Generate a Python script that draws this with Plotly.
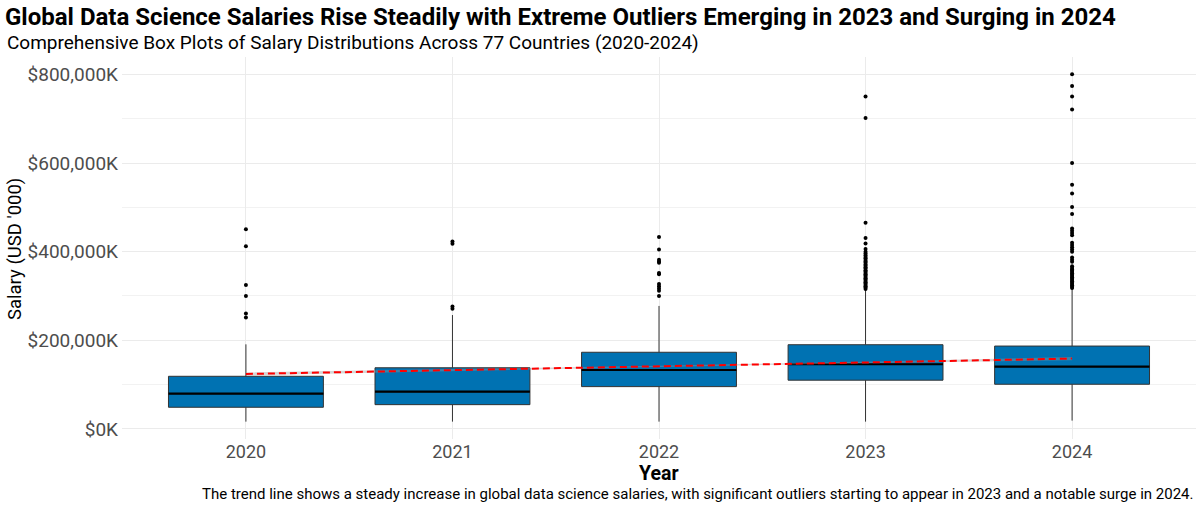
import plotly.graph_objects as go

# ---------------- data ----------------
years = [2020, 2021, 2022, 2023, 2024]
q1 = [48900, 54800, 95500, 110000, 100800]
median = [79500, 84000, 133000, 146000, 140600]
q3 = [118800, 138000, 173000, 190000, 187000]
lower_fence = [16500, 16500, 16500, 16500, 18800]
upper_fence = [190900, 257000, 277500, 313500, 319600]

outliers_2020 = [450700, 412000, 325000, 300000, 260700, 251700]
outliers_2021 = [423000, 418000, 276000, 271000]
outliers_2022 = [433000, 405000, 382000, 378000, 375000, 352000, 349000,
                 327000, 322000, 317000, 312000, 300000]
outliers_2023 = [750000, 701500, 465000, 431000, 418500, 406000, 400000,
                 396000, 392000, 388000, 385000, 381000, 378000, 375000,
                 371000, 368000, 365000, 362000, 358000, 355000, 352000,
                 349000, 346000, 343000, 340000, 337000, 334000, 331000,
                 328000, 325000, 322000, 319000, 316000]
outliers_2024 = [800000, 774000, 750000, 721000, 600000, 551000, 531000,
                 501000, 485000, 452000, 447000, 442000, 437000, 420000,
                 415000, 410000, 405000, 400000, 387000, 382000, 377000,
                 367000, 363000, 360000, 357000, 354000, 351000, 348000,
                 345000, 342000, 339000, 336000, 333000, 330000, 327000,
                 324000, 321000, 318000]
outliers = [outliers_2020, outliers_2021, outliers_2022, outliers_2023, outliers_2024]

trend = [124000, 132700, 141400, 150000, 158700]
trend_lo = [120500, 130700, 140000, 148200, 155200]
trend_hi = [127500, 134700, 142800, 151800, 162200]

tick_vals = [0, 200000, 400000, 600000, 800000]
tick_text = ["$0K", "$200,000K", "$400,000K", "$600,000K", "$800,000K"]

title = "Global Data Science Salaries Rise Steadily with Extreme Outliers Emerging in 2023 and Surging in 2024"
subtitle = "Comprehensive Box Plots of Salary Distributions Across 77 Countries (2020-2024)"
caption = "The trend line shows a steady increase in global data science salaries, with significant outliers starting to appear in 2023 and a notable surge in 2024."

BOX_W = 0.75
FONT = "Roboto"

fig = go.Figure()

fig.add_trace(go.Box(
    x=years, q1=q1, median=median, q3=q3,
    lowerfence=lower_fence, upperfence=upper_fence,
    width=BOX_W, fillcolor="#0072B2",
    line=dict(color="#333333", width=1),
    whiskerwidth=0, boxpoints=False, showlegend=False, hoverinfo="skip",
))

# thick median lines
mx, my = [], []
for yr, m in zip(years, median):
    mx += [yr - BOX_W / 2, yr + BOX_W / 2, None]
    my += [m, m, None]
fig.add_trace(go.Scatter(x=mx, y=my, mode="lines",
                         line=dict(color="black", width=2.2),
                         showlegend=False, hoverinfo="skip"))

# outliers
ox, oy = [], []
for yr, vals in zip(years, outliers):
    ox += [yr] * len(vals)
    oy += vals
fig.add_trace(go.Scatter(x=ox, y=oy, mode="markers",
                         marker=dict(color="black", size=4),
                         showlegend=False, hoverinfo="skip"))

# trend band + line
fig.add_trace(go.Scatter(x=years, y=trend_hi, mode="lines",
                         line=dict(width=0), showlegend=False, hoverinfo="skip"))
fig.add_trace(go.Scatter(x=years, y=trend_lo, mode="lines", fill="tonexty",
                         fillcolor="rgba(153,153,153,0.4)",
                         line=dict(width=0), showlegend=False, hoverinfo="skip"))
fig.add_trace(go.Scatter(x=years, y=trend, mode="lines",
                         line=dict(color="red", width=2, dash="7px,4px"),
                         showlegend=False, hoverinfo="skip"))

L, R, T, B = 122, 4, 57, 70
W, H = 1200, 509
pw, ph = W - L - R, H - T - B

def px_to_paper_y(py):
    return (H - B - py) / ph

def px_to_paper_x(px):
    return (px - L) / pw

fig.update_layout(
    width=W, height=H,
    margin=dict(l=L, r=R, t=T, b=B),
    plot_bgcolor="white", paper_bgcolor="white",
    font=dict(family=FONT, color="black"),
    title=dict(text="<b>" + title + "</b>", font=dict(family=FONT, size=24, color="black"),
               x=5 / W, xanchor="left", xref="container",
               y=1 - 17 / H, yanchor="middle", yref="container"),
    xaxis=dict(
        range=[2019.4, 2024.6], tickvals=years, ticktext=[str(y) for y in years],
        showgrid=True, gridcolor="#ebebeb", gridwidth=1, zeroline=False,
        showline=False, ticks="", tickfont=dict(size=18, color="#4d4d4d", family=FONT),
    ),
    yaxis=dict(
        range=[-22700, 839200], tickvals=tick_vals, ticktext=tick_text,
        showgrid=True, gridcolor="#ebebeb", gridwidth=1, zeroline=False,
        showline=False, ticks="", ticklabelstandoff=3,
        tickfont=dict(size=19, color="#4d4d4d", family=FONT),
        minor=dict(dtick=100000, tick0=0, showgrid=True, gridcolor="#f2f2f2", gridwidth=1),
    ),
    annotations=[
        dict(text=subtitle, xref="paper", yref="paper",
             x=px_to_paper_x(5), y=px_to_paper_y(43), xanchor="left", yanchor="middle",
             showarrow=False, font=dict(size=19, color="black", family=FONT)),
        dict(text="Salary (USD '000)", xref="paper", yref="paper",
             x=px_to_paper_x(15), y=px_to_paper_y(249), xanchor="center", yanchor="middle",
             textangle=-90, showarrow=False, font=dict(size=18.5, color="black", family=FONT)),
        dict(text="<b>Year</b>", xref="paper", yref="paper",
             x=0.5, y=px_to_paper_y(474), xanchor="center", yanchor="middle",
             showarrow=False, font=dict(size=19.5, color="black", family=FONT)),
        dict(text=caption, xref="paper", yref="paper",
             x=px_to_paper_x(1195), y=px_to_paper_y(494), xanchor="right", yanchor="middle",
             showarrow=False, font=dict(size=15, color="black", family=FONT)),
    ],
)

fig.write_html("out.html")
